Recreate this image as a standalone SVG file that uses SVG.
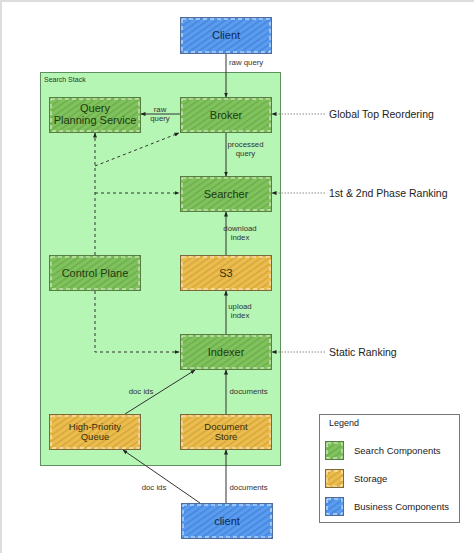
<svg xmlns="http://www.w3.org/2000/svg" width="474" height="553" viewBox="0 0 474 553">
<style>
.lbl{font-family:"Liberation Sans",Arial,sans-serif;font-size:11px;text-anchor:middle;}
.g .lbl{fill:#1d3a12}
.o .lbl{fill:#3a2c08}
.b .lbl{fill:#0f2a55}
.el{font-family:"Liberation Sans",Arial,sans-serif;font-size:7.8px;fill:#333}
.ann{font-family:"Liberation Sans",Arial,sans-serif;font-size:10.5px;fill:#222}
.outer{stroke-width:1}
.g .outer{fill:url(#hg);stroke:#56803f}
.o .outer{fill:url(#ho);stroke:#7c6a3c}
.b .outer{fill:url(#hb);stroke:#4f6d96}
.inner{fill:none;stroke:#fff;stroke-width:1;stroke-dasharray:4 3;opacity:0.85}
.solid{fill:none;stroke:#333;stroke-width:1;marker-end:url(#ah)}
.dash{fill:none;stroke:#333;stroke-width:1;stroke-dasharray:3 3;marker-end:url(#ah)}
.dot{fill:none;stroke:#888;stroke-width:1;stroke-dasharray:1.5 1.5;marker-end:url(#ah)}
</style>
<defs>
<pattern id="hg" width="5" height="5" patternUnits="userSpaceOnUse" patternTransform="rotate(55)">
<rect width="5" height="5" fill="#80c35e"/><rect width="1.6" height="5" fill="#6eaf4c"/>
</pattern>
<pattern id="ho" width="5" height="5" patternUnits="userSpaceOnUse" patternTransform="rotate(55)">
<rect width="5" height="5" fill="#ecbd4e"/><rect width="1.6" height="5" fill="#d6a73c"/>
</pattern>
<pattern id="hb" width="5" height="5" patternUnits="userSpaceOnUse" patternTransform="rotate(55)">
<rect width="5" height="5" fill="#5a9cef"/><rect width="1.6" height="5" fill="#4686dc"/>
</pattern>
<marker id="ah" viewBox="0 0 10 10" refX="9" refY="5" markerWidth="5" markerHeight="5" orient="auto-start-reverse" markerUnits="userSpaceOnUse">
<path d="M0,1 L10,5 L0,9 z" fill="#222"/>
</marker>
</defs>
<rect width="474" height="553" fill="#fff"/>
<rect x="0" y="0" width="474" height="2" fill="#ddd"/>
<rect x="0" y="0" width="2" height="553" fill="#ddd"/>

<g id="search-stack">
<rect x="40.5" y="72.5" width="240" height="393" fill="#b5f6b5" stroke="#5f8f5f" stroke-width="1"/>
<text x="44" y="82" style="font-family:'Liberation Sans',Arial,sans-serif;font-size:7px;fill:#2a3a2a">Search Stack</text>
</g>

<g id="connectors">
<path class="solid" d="M226,53 V97"/>
<text class="el" x="229" y="65">raw query</text>
<path class="solid" d="M180,114 H141"/>
<text class="el" x="160" y="112" text-anchor="middle">raw</text>
<text class="el" x="160" y="120.5" text-anchor="middle">query</text>
<path class="solid" d="M226,132 V176"/>
<text class="el" x="245.5" y="147" text-anchor="middle">processed</text>
<text class="el" x="245.5" y="155.5" text-anchor="middle">query</text>
<path class="solid" d="M226,255 V212"/>
<text class="el" x="240" y="231" text-anchor="middle">download</text>
<text class="el" x="240" y="239.5" text-anchor="middle">index</text>
<path class="solid" d="M226,334 V291"/>
<text class="el" x="240" y="309" text-anchor="middle">upload</text>
<text class="el" x="240" y="317.5" text-anchor="middle">index</text>
<path class="solid" d="M226,414 V370"/>
<text class="el" x="229.5" y="394">documents</text>
<path class="solid" d="M125,414 L195,370"/>
<text class="el" x="141" y="394" text-anchor="middle">doc ids</text>
<path class="solid" d="M226,503 V450"/>
<text class="el" x="229.5" y="490">documents</text>
<path class="solid" d="M200,503 L123,450"/>
<text class="el" x="154" y="490" text-anchor="middle">doc ids</text>

<path class="dash" d="M95,255 V133"/>
<path class="dash" d="M95,166 L179,133"/>
<path class="dash" d="M95,193 H179"/>
<path class="dash" d="M95,291 V352 H179"/>

<path class="dot" d="M325,114 H272"/>
<path class="dot" d="M325,193 H272"/>
<path class="dot" d="M325,352 H272"/>
</g>

<g id="client-top" class="b">
<rect class="outer" x="180.5" y="17.5" width="91" height="36"/>
<rect class="inner" x="182" y="19" width="88" height="33"/>
<text class="lbl" x="226" y="39">Client</text>
</g>
<g id="query-planning" class="g">
<rect class="outer" x="49.5" y="97.5" width="91" height="35"/>
<rect class="inner" x="51" y="99" width="88" height="32"/>
<text class="lbl" x="95" y="112">Query</text>
<text class="lbl" x="95" y="124">Planning Service</text>
</g>
<g id="broker" class="g">
<rect class="outer" x="180.5" y="97.5" width="91" height="35"/>
<rect class="inner" x="182" y="99" width="88" height="32"/>
<text class="lbl" x="226" y="118.5">Broker</text>
</g>
<g id="searcher" class="g">
<rect class="outer" x="180.5" y="176.5" width="91" height="35"/>
<rect class="inner" x="182" y="178" width="88" height="32"/>
<text class="lbl" x="226" y="197.5">Searcher</text>
</g>
<g id="control-plane" class="g">
<rect class="outer" x="49.5" y="255.5" width="91" height="35"/>
<rect class="inner" x="51" y="257" width="88" height="32"/>
<text class="lbl" x="95" y="276.5">Control Plane</text>
</g>
<g id="s3" class="o">
<rect class="outer" x="180.5" y="255.5" width="91" height="35"/>
<rect class="inner" x="182" y="257" width="88" height="32"/>
<text class="lbl" x="226" y="276.5">S3</text>
</g>
<g id="indexer" class="g">
<rect class="outer" x="180.5" y="334.5" width="91" height="35"/>
<rect class="inner" x="182" y="336" width="88" height="32"/>
<text class="lbl" x="226" y="355.5">Indexer</text>
</g>
<g id="hp-queue" class="o">
<rect class="outer" x="49.5" y="414.5" width="91" height="35"/>
<rect class="inner" x="51" y="416" width="88" height="32"/>
<text class="lbl" x="95" y="430" style="font-size:9.5px">High-Priority</text>
<text class="lbl" x="95" y="440" style="font-size:9.5px">Queue</text>
</g>
<g id="document-store" class="o">
<rect class="outer" x="180.5" y="414.5" width="91" height="35"/>
<rect class="inner" x="182" y="416" width="88" height="32"/>
<text class="lbl" x="226" y="430" style="font-size:9.5px">Document</text>
<text class="lbl" x="226" y="440" style="font-size:9.5px">Store</text>
</g>
<g id="client-bottom" class="b">
<rect class="outer" x="181.5" y="503.5" width="91" height="35"/>
<rect class="inner" x="183" y="505" width="88" height="32"/>
<text class="lbl" x="227" y="525">client</text>
</g>

<g id="annotations">
<text class="ann" x="329" y="118">Global Top Reordering</text>
<text class="ann" x="329" y="197">1st &amp; 2nd Phase Ranking</text>
<text class="ann" x="329" y="356">Static Ranking</text>
</g>

<g id="legend">
<rect x="319.5" y="414.5" width="140" height="108" fill="#fff" stroke="#777"/>
<text x="329" y="426" style="font-family:'Liberation Sans',Arial,sans-serif;font-size:9px;fill:#222">Legend</text>
<g class="g"><rect class="outer" x="325.5" y="441.5" width="18" height="18"/><rect class="inner" x="327" y="443" width="15" height="15"/></g>
<g class="o"><rect class="outer" x="325.5" y="469.5" width="18" height="18"/><rect class="inner" x="327" y="471" width="15" height="15"/></g>
<g class="b"><rect class="outer" x="325.5" y="497.5" width="18" height="18"/><rect class="inner" x="327" y="499" width="15" height="15"/></g>
<text class="ann" x="354" y="454" style="font-size:9.5px">Search Components</text>
<text class="ann" x="354" y="481.5" style="font-size:9.5px">Storage</text>
<text class="ann" x="354" y="510" style="font-size:9.5px">Business Components</text>
</g>
</svg>
